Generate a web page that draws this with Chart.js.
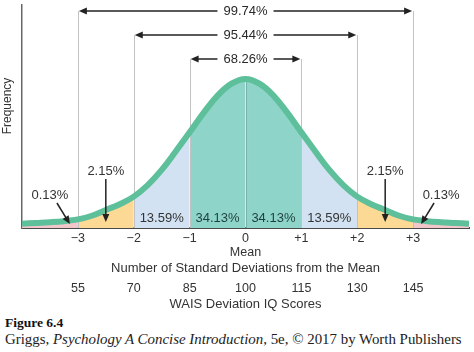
<!DOCTYPE html>
<html>
<head>
<meta charset="utf-8">
<script src="https://cdn.jsdelivr.net/npm/chart.js@4"></script>
<style>
  body { margin: 0; background: #fff; width: 474px; height: 352px; overflow: hidden; position: relative; }
  #wrap { position: absolute; left: 0; top: 0; width: 474px; height: 312px; }
  .fig { position: absolute; left: 5px; top: 315px; font: bold 13.5px "Liberation Serif", serif; color: #111; }
  .cap { position: absolute; left: 5px; top: 331px; font: 14.9px "Liberation Serif", serif; color: #222; white-space: nowrap; }
</style>
</head>
<body>
<div id="wrap"><canvas id="chart"></canvas></div>
<div class="fig">Figure 6.4</div>
<div class="cap">Griggs, <i>Psychology A Concise Introduction</i>, 5e, © 2017 by Worth Publishers</div>
<script>
// curve, every quarter standard deviation
const zValues = [-4, -3.75, -3.5, -3.25, -3, -2.75, -2.5, -2.25, -2, -1.75, -1.5, -1.25, -1, -0.75, -0.5, -0.25, 0,
                 0.25, 0.5, 0.75, 1, 1.25, 1.5, 1.75, 2, 2.25, 2.5, 2.75, 3, 3.25, 3.5, 3.75, 4];
const frequency = [0.1, 0.3, 0.5, 0.8, 1.3, 2.3, 3.9, 5.5, 7.6, 10.8, 15.0, 20.1, 25.4, 30.8, 35.6, 38.9, 40.2,
                   38.9, 35.6, 30.8, 25.4, 20.1, 15.0, 10.8, 7.6, 5.5, 3.9, 2.3, 1.3, 0.8, 0.5, 0.3, 0.1];

const sdTicks = [-3, -2, -1, 0, 1, 2, 3];
const sdLabels = ['\u22123', '\u22122', '\u22121', '0', '+1', '+2', '+3'];
const iqLabels = ['55', '70', '85', '100', '115', '130', '145'];

const bandFrom = [-4, -3, -2, -1, 0, 1, 2, 3];
const bandTo = [-3, -2, -1, 0, 1, 2, 3, 4];
const bandPercents = ['0.13%', '2.15%', '13.59%', '34.13%', '34.13%', '13.59%', '2.15%', '0.13%'];
const bandColors = ['#f3c6c9', '#fcd994', '#d3e2f2', '#8fd4c8', '#8fd4c8', '#d3e2f2', '#fcd994', '#f3c6c9'];

const spanSD = [3, 2, 1];
const spanPercents = ['99.74%', '95.44%', '68.26%'];

const points = zValues.map((z, i) => ({ x: z, y: frequency[i] }));
const sans = '"Liberation Sans", Arial, sans-serif';

const arrow = (ctx, x1, y1, x2, y2) => {
    const a = Math.atan2(y2 - y1, x2 - x1);
    const len = 8, half = 3.5;
    ctx.beginPath();
    ctx.moveTo(x1, y1);
    ctx.lineTo(x2 - Math.cos(a) * len * 0.8, y2 - Math.sin(a) * len * 0.8);
    ctx.stroke();
    ctx.beginPath();
    ctx.moveTo(x2, y2);
    ctx.lineTo(x2 - Math.cos(a) * len - Math.sin(a) * half, y2 - Math.sin(a) * len + Math.cos(a) * half);
    ctx.lineTo(x2 - Math.cos(a) * len + Math.sin(a) * half, y2 - Math.sin(a) * len - Math.cos(a) * half);
    ctx.closePath();
    ctx.fill();
};

const overlay = {
    id: 'overlay',
    beforeDatasetDraw(chart, args) {
        if (args.index !== 0) return;
        const { ctx, chartArea, scales: { x, y } } = chart;
        const base = chartArea.bottom;
        ctx.save();
        ctx.lineWidth = 1;
        ctx.strokeStyle = '#c2c2c2';
        spanSD.forEach((sd, i) => {
            const top = chartArea.top + 6 + i * 24;
            [-sd, sd].forEach(v => {
                const px = Math.round(x.getPixelForValue(v)) + 0.5;
                ctx.beginPath();
                ctx.moveTo(px, base);
                ctx.lineTo(px, top);
                ctx.stroke();
            });
        });
        ctx.strokeStyle = 'rgba(110,150,145,0.55)';
        const cx = Math.round(x.getPixelForValue(0)) + 0.5;
        ctx.beginPath();
        ctx.moveTo(cx, base);
        ctx.lineTo(cx, y.getPixelForValue(Math.max(...frequency)));
        ctx.stroke();
        ctx.restore();
    },
    afterDatasetsDraw(chart) {
        const { ctx, chartArea, scales: { x } } = chart;
        const base = chartArea.bottom;
        const mid = x.getPixelForValue(0);
        ctx.save();
        ctx.font = '13px ' + sans;
        ctx.textAlign = 'center';
        ctx.textBaseline = 'middle';
        ctx.lineWidth = 1.5;
        ctx.strokeStyle = '#222';
        ctx.fillStyle = '#222';

        // span arrows above the curve
        spanSD.forEach((sd, i) => {
            const yy = chartArea.top + 6 + i * 24;
            const w = ctx.measureText(spanPercents[i]).width / 2 + 6;
            ctx.fillStyle = '#2a2a2a';
            ctx.fillText(spanPercents[i], mid, yy);
            ctx.fillStyle = '#222';
            arrow(ctx, mid - w, yy, x.getPixelForValue(-sd) + 1, yy);
            arrow(ctx, mid + w, yy, x.getPixelForValue(sd) - 1, yy);
        });

        // percent of each band
        bandPercents.forEach((label, i) => {
            const c = x.getPixelForValue((bandFrom[i] + bandTo[i]) / 2);
            const reach = Math.abs(bandFrom[i] + bandTo[i]);
            if (reach <= 3) {
                ctx.fillStyle = i === 3 || i === 4 ? '#1f3f3d' : '#333';
                ctx.fillText(label, c, base - 10);
            } else if (reach === 5) {
                ctx.fillStyle = '#333';
                ctx.fillText(label, c, base - 57);
                ctx.fillStyle = '#222';
                arrow(ctx, c, base - 49, c, base - 6);
            } else {
                const dir = bandFrom[i] < 0 ? 1 : -1;
                const edge = x.getPixelForValue(bandFrom[i] < 0 ? bandTo[i] : bandFrom[i]);
                ctx.fillStyle = '#333';
                ctx.fillText(label, c, base - 33);
                ctx.fillStyle = '#222';
                arrow(ctx, c + dir * 7, base - 25, edge - dir * 8, base - 4);
            }
        });

        // axis name, set a little above the middle as in the figure
        ctx.translate(8, chartArea.top + 101);
        ctx.rotate(-Math.PI / 2);
        ctx.font = '12px ' + sans;
        ctx.fillStyle = '#333';
        ctx.fillText('Frequency', 0, 0);
        ctx.restore();
    }
};

const ctx = document.getElementById('chart').getContext('2d');

new Chart(ctx, {
    type: 'line',
    data: {
        datasets: [
            {
                data: points,
                borderColor: '#5ebf9b',
                borderWidth: 6,
                fill: false,
                pointRadius: 0,
                tension: 0.4
            },
            ...bandFrom.map((from, i) => ({
                data: points.filter(p => p.x >= from && p.x <= bandTo[i]),
                borderWidth: 0,
                backgroundColor: bandColors[i],
                fill: 'start',
                pointRadius: 0,
                tension: 0.4
            }))
        ]
    },
    options: {
        responsive: true,
        maintainAspectRatio: false,
        animation: false,
        layout: { padding: { top: 5, right: 4, left: 0, bottom: 0 } },
        plugins: {
            legend: { display: false },
            tooltip: { enabled: false }
        },
        scales: {
            x: {
                type: 'linear',
                position: 'bottom',
                min: -4,
                max: 4,
                z: 1,
                grid: { display: false, drawTicks: false },
                border: { display: true, color: '#4a4a4a', width: 2 },
                ticks: {
                    stepSize: 1,
                    autoSkip: false,
                    maxRotation: 0,
                    padding: 3,
                    color: '#333',
                    font: { family: sans, size: 12.5, lineHeight: 1.15 },
                    callback: v => {
                        const i = sdTicks.indexOf(v);
                        if (i < 0) return '';
                        return v === 0 ? [sdLabels[i], 'Mean'] : sdLabels[i];
                    }
                },
                title: {
                    display: true,
                    text: 'Number of Standard Deviations from the Mean',
                    color: '#333',
                    font: { family: sans, size: 13 },
                    padding: 0
                },
                afterFit: s => { s.height = 48; }
            },
            x2: {
                type: 'linear',
                position: 'bottom',
                min: -4,
                max: 4,
                grid: { display: false, drawTicks: false },
                border: { display: false },
                ticks: {
                    stepSize: 1,
                    autoSkip: false,
                    maxRotation: 0,
                    padding: 5,
                    color: '#333',
                    font: { family: sans, size: 12.5 },
                    callback: v => {
                        const i = sdTicks.indexOf(v);
                        return i < 0 ? '' : iqLabels[i];
                    }
                },
                title: {
                    display: true,
                    text: 'WAIS Deviation IQ Scores',
                    color: '#333',
                    font: { family: sans, size: 13 },
                    padding: 0
                },
                afterFit: s => { s.height = 36; }
            },
            y: {
                min: -1.1,
                max: 60.7,
                z: 1,
                grid: { display: false, drawTicks: false },
                border: { display: true, color: '#666', width: 1.5 },
                ticks: { display: false },
                afterFit: s => { s.width = 22; }
            }
        }
    },
    plugins: [overlay]
});
</script>
</body>
</html>
